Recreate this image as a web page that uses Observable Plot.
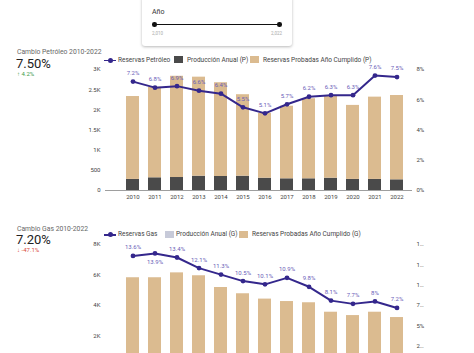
<!DOCTYPE html>
<html><head><meta charset="utf-8">
<script src="https://cdn.jsdelivr.net/npm/d3@7"></script>
<script src="https://cdn.jsdelivr.net/npm/@observablehq/plot@0.6"></script>
<style>
body{margin:0;width:474px;height:353px;overflow:hidden;background:#fff;font-family:Roboto,"Noto Sans",sans-serif;position:relative}
.a{position:absolute;white-space:nowrap;line-height:1}
.big{line-height:0.8}
.card{position:absolute;left:142px;top:-4px;width:150px;height:50px;background:#fff;border-radius:3px;box-shadow:0 1px 3px rgba(0,0,0,0.28)}
.sw{position:absolute;width:9px;height:7px}
.lg{font-size:6.5px;color:#444}
svg{position:absolute;left:0}
</style></head><body>
<div class="card"></div>
<div class="a" style="left:152px;top:9px;font-size:7px;color:#333">Año</div>
<div class="a" style="left:154px;top:24px;width:125px;height:1.2px;background:#111"></div>
<div class="a" style="left:152px;top:22px;width:4.5px;height:4.5px;border-radius:50%;background:#111"></div>
<div class="a" style="left:277px;top:22px;width:4.5px;height:4.5px;border-radius:50%;background:#111"></div>
<div class="a" style="left:152px;top:32px;font-size:4.5px;color:#aaa">2,010</div>
<div class="a" style="left:271px;top:32px;font-size:4.5px;color:#aaa">2,022</div>

<div class="a" style="left:17px;top:48.5px;font-size:6.8px;color:#666">Cambio Petróleo 2010-2022</div>
<div class="a big" style="left:16px;top:58.5px;font-size:13px;color:#222">7.50%</div>
<div class="a" style="left:17px;top:71px;font-size:6px;color:#3e9c4c">↑ 4.2%</div>

<div class="a" style="left:17px;top:225.5px;font-size:6.8px;color:#666">Cambio Gas 2010-2022</div>
<div class="a big" style="left:16px;top:235px;font-size:13px;color:#222">7.20%</div>
<div class="a" style="left:17px;top:246.5px;font-size:6px;color:#d9483b">↓ -47.1%</div>

<div id="leg1"></div><div id="leg2"></div>
<div id="c1"></div><div id="c2"></div>
<script>
const years = ["2010","2011","2012","2013","2014","2015","2016","2017","2018","2019","2020","2021","2022"];

// Petróleo
const oilReservesPct = [7.2, 6.8, 6.9, 6.6, 6.4, 5.5, 5.1, 5.7, 6.2, 6.3, 6.3, 7.6, 7.5];
const oilProduction = [275, 315, 322, 355, 347, 355, 305, 290, 290, 305, 275, 275, 265];
const oilProvenReserves = [2055, 2245, 2510, 2455, 2325, 2020, 1610, 1800, 1985, 2050, 1835, 2040, 2090];
const oilLeftTicks = [0, 500, 1000, 1500, 2000, 2500, 3000];
const oilLeftLabels = ["0", "500", "1K", "1.5K", "2K", "2.5K", "3K"];
const oilRightTicks = [0, 2, 4, 6, 8];
const oilRightLabels = ["0%", "2%", "4%", "6%", "8%"];

// Gas
const gasReservesPct = [13.6, 13.9, 13.4, 12.1, 11.3, 10.5, 10.1, 10.9, 9.8, 8.1, 7.7, 8, 7.2];
const gasProduction = [560, 560, 540, 520, 500, 480, 460, 430, 410, 390, 370, 350, 330];
const gasProvenReserves = [5260, 5260, 5600, 5430, 4680, 4290, 3960, 3830, 3770, 3170, 2970, 3210, 2880];
const gasLeftTicks = [2000, 4000, 6000, 8000];
const gasLeftLabels = ["2K", "4K", "6K", "8K"];
const gasRightTicks = [2.5, 5, 7.5, 10, 12.5, 15];
const gasRightLabels = ["2…", "5%", "7…", "1…", "1…", "1…"];

const lineColor = "#34278c";
const labelColor = "#6a60b8";
const tan = "#dbbb90";

function legend(id, top, lineName, prodName, prodColor, resName) {
  document.getElementById(id).innerHTML = `
  <div class="a" style="left:104px;top:${top}px;width:12px;height:1.6px;background:${lineColor}"></div>
  <div class="a" style="left:107.5px;top:${top-1.9}px;width:5px;height:5px;border-radius:50%;background:${lineColor}"></div>
  <div class="a lg" style="left:118px;top:${top-3}px">${lineName}</div>
  <div class="sw" style="left:${id==="leg1"?174:165}px;top:${top-3.3}px;background:${prodColor}"></div>
  <div class="a lg" style="left:${id==="leg1"?187:176}px;top:${top-3}px">${prodName}</div>
  <div class="sw" style="left:${id==="leg1"?250:239}px;top:${top-3.3}px;background:${tan}"></div>
  <div class="a lg" style="left:${id==="leg1"?263:252}px;top:${top-3}px">${resName}</div>`;
}
legend("leg1", 59.5, "Reservas Petróleo", "Producción Anual (P)", "#4a4a4a", "Reservas Probadas Año Cumplido (P)");
legend("leg2", 234, "Reservas Gas", "Producción Anual (G)", "#c7cad9", "Reservas Probadas Año Cumplido (G)");

function chart(o) {
  const k = o.yMax / o.pctMax;
  const rows = years.map((y, i) => ({year: y, prod: o.prod[i], top: o.prod[i] + o.res[i], pct: o.pct[i], ps: o.pct[i] * k}));
  const fl = new Map(o.leftTicks.map((t, i) => [t, o.leftLabels[i]]));
  const rt = o.rightTicks.map(t => t * k);
  const fr = new Map(rt.map((t, i) => [t, o.rightLabels[i]]));
  const below = o.below || [];
  const svg = Plot.plot({
    width: 474, height: o.height,
    marginTop: o.marginTop, marginBottom: 15, marginLeft: 105, marginRight: 62,
    x: {type: "band", domain: years, range: [111, 418], padding: 0.39, label: null, axis: null},
    y: {domain: [0, o.yMax], label: null, axis: null},
    style: {fontFamily: "Roboto, sans-serif", fontSize: "6px", color: "#444", background: "transparent", overflow: "visible"},
    marks: [
      Plot.barY(rows, {x: "year", y1: 0, y2: "prod", fill: o.prodColor}),
      Plot.barY(rows, {x: "year", y1: "prod", y2: "top", fill: tan}),
      Plot.ruleY([0], {stroke: "#9e9e9e", strokeWidth: 1}),
      o.showX ? Plot.axisX({tickSize: 0, tickPadding: 4, label: null}) : null,
      Plot.axisY({ticks: o.leftTicks, tickFormat: d => fl.get(d), tickSize: 0, tickPadding: 5, label: null}),
      Plot.axisY({anchor: "right", ticks: rt, tickFormat: d => fr.get(d), tickSize: 0, tickPadding: 4, label: null}),
      Plot.line(rows, {x: "year", y: "ps", stroke: lineColor, strokeWidth: 2}),
      Plot.dot(rows, {x: "year", y: "ps", r: 2.4, fill: lineColor}),
      Plot.text(rows.filter(d => !below.includes(d.year)), {x: "year", y: "ps", text: d => d.pct + "%", dy: -8.5, fill: labelColor, fontSize: 6}),
      Plot.text(rows.filter(d => below.includes(d.year)), {x: "year", y: "ps", text: d => d.pct + "%", dy: 9, fill: labelColor, fontSize: 6})
    ]
  });
  svg.style.top = o.top + "px";
  document.getElementById(o.id).appendChild(svg);
}

chart({id: "c1", top: 0, height: 205, marginTop: 69, yMax: 3000, pctMax: 8, showX: true,
  prod: oilProduction, res: oilProvenReserves, pct: oilReservesPct, prodColor: "#4a4a4a",
  leftTicks: oilLeftTicks, leftLabels: oilLeftLabels, rightTicks: oilRightTicks, rightLabels: oilRightLabels});
chart({id: "c2", top: 200, height: 181, marginTop: 44, yMax: 8000, pctMax: 15, showX: false,
  prod: gasProduction, res: gasProvenReserves, pct: gasReservesPct, prodColor: "#c7cad9",
  leftTicks: gasLeftTicks, leftLabels: gasLeftLabels, rightTicks: gasRightTicks, rightLabels: gasRightLabels, below: ["2011"]});
</script>
</body></html>
